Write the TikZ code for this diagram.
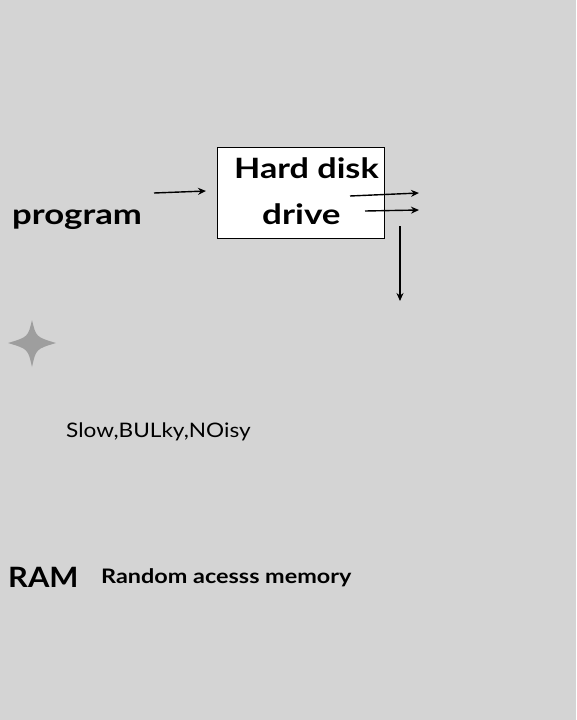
\documentclass[tikz,border=0pt]{standalone}
\usepackage{fontspec}
\setmainfont{Lato}
\usetikzlibrary{arrows.meta}
\definecolor{bg}{RGB}{212,212,212}
\definecolor{stargray}{RGB}{158,158,158}
\tikzset{
  boldtxt/.style={font=\bfseries, inner sep=0pt, anchor=base west},
  reg/.style={inner sep=0pt, anchor=base west},
  arr/.style={line width=1.4pt, -{Stealth[length=8pt,width=7pt]}},
}
\begin{document}
\begin{tikzpicture}[x=1pt,y=-1pt]
\fill[bg] (0,0) rectangle (576,720);
\useasboundingbox (0,0) rectangle (576,720);
% box
\node[draw=black, line width=0.8pt, fill=white, minimum width=167pt, minimum height=91pt, inner sep=0pt, anchor=north west] (hdd) at (217,147) {};
\node[boldtxt, font=\fontsize{28}{30}\selectfont\bfseries] (hd1) at (234,178) {\scalebox{1.22}[1]{Hard disk}};
\node[boldtxt, font=\fontsize{28}{30}\selectfont\bfseries] (hd2) at (262,224) {\scalebox{1.25}[1]{drive}};
\node[boldtxt, font=\fontsize{28}{30}\selectfont\bfseries] (prog) at (12,224) {\scalebox{1.24}[1]{program}};
% arrows
\coordinate (a1s) at (154,193); \coordinate (a1e) at (206,191);
\coordinate (a2s) at (350,196); \coordinate (a2e) at (419,193);
\coordinate (a3s) at (365,211); \coordinate (a3e) at (419,210);
\coordinate (a4s) at (400,226); \coordinate (a4e) at (400,301);
\draw[arr] (a1s) -- (a1e);
\draw[arr] (a2s) -- (a2e);
\draw[arr] (a3s) -- (a3e);
\draw[arr] (a4s) -- (a4e);
% star
\fill[stargray] (32,320) .. controls (36,337) .. (56,343) .. controls (36,349) .. (32,367) .. controls (28,349) .. (8,343) .. controls (28,337) .. (32,320) -- cycle;
\node[reg, font=\fontsize{20}{22}\selectfont] (slow) at (66,437) {\scalebox{1.13}[1]{Slow,BULky,NOisy}};
\node[boldtxt, font=\fontsize{28}{30}\selectfont\bfseries] (ram) at (8,587) {\scalebox{1.1}[1]{RAM}};
\node[boldtxt, font=\fontsize{20}{22}\selectfont\bfseries] (rand) at (101,583) {\scalebox{1.17}[1]{Random acesss memory}};
\end{tikzpicture}
\end{document}
